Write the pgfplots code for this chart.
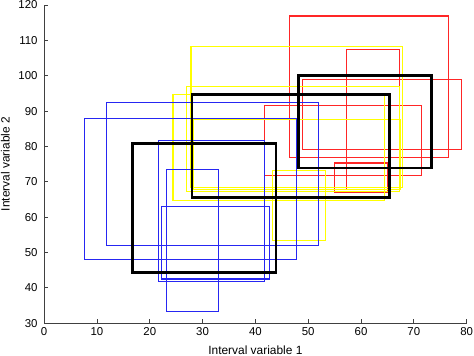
\documentclass[border=0pt]{standalone}
\usepackage{fontspec}
\setmainfont{Liberation Sans}
\usepackage{pgfplots}
\pgfplotsset{compat=1.18}
\definecolor{mblue}{rgb}{0.15,0.15,0.95}
\definecolor{mred}{rgb}{1,0.15,0.15}
\definecolor{myel}{rgb}{1,1,0}
\newcommand{\rect}[6]{\addplot[draw=#1, line width=#2] coordinates {(#3,#4) (#5,#4) (#5,#6) (#3,#6) (#3,#4)};}
\begin{document}
\begin{tikzpicture}
\begin{axis}[
  scale only axis, width=425pt, height=320pt,
  xmin=0, xmax=80, ymin=30, ymax=120,
  xtick={0,10,...,80}, ytick={30,40,...,120},
  axis x line=bottom, axis y line=left,
  axis line style={-, black!75, line width=0.8pt},
  tick style={black!75, line width=0.8pt},
  tick align=inside, major tick length=4pt,
  /pgf/number format/assume math mode=true,
  ticklabel style={font=\fontsize{11.5}{13}\selectfont, inner sep=1pt},
  xticklabel style={yshift=-3.5pt},
  yticklabel style={xshift=-5.5pt},
  xlabel={Interval variable 1}, ylabel={Interval variable 2},
  label style={font=\fontsize{12}{14}\selectfont, inner sep=1pt},
  xlabel style={yshift=-8pt},
  ylabel style={yshift=6.5pt},
  clip=false,
  every axis plot/.append style={line join=miter, line cap=rect, mark=none},
]
% red
\rect{mred}{1.1pt}{46.4}{76.8}{76.6}{116.9}
\rect{mred}{1.1pt}{57.2}{67.8}{67.3}{107.3}
\rect{mred}{1.1pt}{48.9}{79.1}{79.1}{99.0}
\rect{mred}{1.1pt}{41.7}{71.8}{71.5}{91.7}
\rect{mred}{1.1pt}{55.0}{67.0}{65.0}{75.3}
% yellow
\rect{myel}{1.1pt}{27.8}{68.3}{67.9}{108.3}
\rect{myel}{1.1pt}{26.9}{67.3}{67.3}{97.0}
\rect{myel}{1.1pt}{24.4}{64.8}{64.4}{94.6}
\rect{myel}{1.1pt}{28.3}{67.8}{67.5}{87.6}
\rect{myel}{1.1pt}{43.2}{53.4}{53.3}{73.2}
% blue
\rect{mblue}{1.1pt}{11.8}{52.0}{52.0}{92.3}
\rect{mblue}{1.1pt}{7.6}{48.1}{47.8}{87.8}
\rect{mblue}{1.1pt}{21.7}{41.8}{41.7}{81.6}
\rect{mblue}{1.1pt}{23.1}{33.2}{33.0}{73.5}
\rect{mblue}{1.1pt}{22.3}{42.5}{42.6}{62.9}
% black prototypes
\rect{black}{2.8pt}{16.7}{44.3}{43.9}{80.8}
\rect{black}{2.8pt}{28.0}{65.5}{65.4}{94.8}
\rect{black}{2.8pt}{48.1}{73.9}{73.4}{100.0}
\end{axis}
\end{tikzpicture}
\end{document}
